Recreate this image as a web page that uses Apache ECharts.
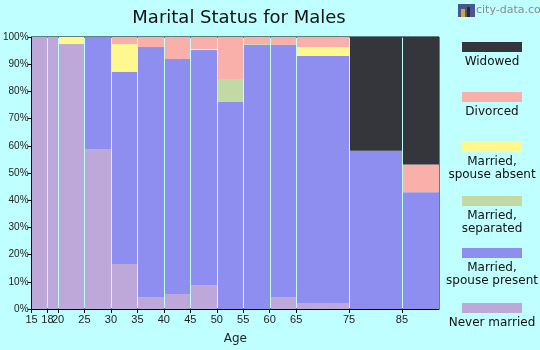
<!DOCTYPE html>
<html>
<head>
<meta charset="utf-8">
<script src="https://cdn.jsdelivr.net/npm/echarts@6/dist/echarts.min.js"></script>
<style>
html,body{margin:0;padding:0;background:#c0ffff;}
#c{width:540px;height:350px;}
</style>
</head>
<body>
<div id="c"></div>
<script>
// Age group boundaries
var ageStarts = [15,18,20,25,30,35,40,45,50,55,60,65,75,85];
var ageEnds   = [18,20,25,30,35,40,45,50,55,60,65,75,85,92];
var xTickLabels = [15,18,20,25,30,35,40,45,50,55,60,65,75,85];
var yTickLabels = [0,10,20,30,40,50,60,70,80,90,100];

// Percent shares per age group (stack order: bottom to top)
var neverMarried  = [100,100,97.4,58.7,16.5,4.4,5.5,8.8,0,0,4.4,2.2,0,0];
var spousePresent = [0,0,0,41.3,70.7,91.9,86.4,86.4,76.2,97.1,92.7,90.8,58.2,42.9];
var separated     = [0,0,0,0,0,0,0,0,8.4,0.3,0,0,0,0];
var spouseAbsent  = [0,0,2.6,0,10.2,0,0,0.4,0,0,0,3.3,0,0];
var divorced      = [0,0,0,0,2.6,3.7,8.1,4.4,15.4,2.6,2.9,3.7,0,10.2];
var widowed       = [0,0,0,0,0,0,0,0,0,0,0,0,41.8,46.9];

var seriesNames = ['Never married','Married, spouse present','Married, separated','Married, spouse absent','Divorced','Widowed'];
var seriesValues = [neverMarried, spousePresent, separated, spouseAbsent, divorced, widowed];
var colors = ['#bea8d9','#8e8ef0','#c2d9a3','#fef88e','#f9afaa','#35363b'];

var bottoms = ageStarts.map(function(){return 0;});
var series = seriesValues.map(function(vals, si){
  var data = [];
  vals.forEach(function(v, i){
    if (v > 0) data.push([ageStarts[i], ageEnds[i], bottoms[i], bottoms[i] + v]);
    bottoms[i] += v;
  });
  return {
    type: 'custom',
    name: seriesNames[si],
    data: data,
    encode: {x: [0,1], y: [2,3]},
    renderItem: function(params, api){
      var p0 = api.coord([api.value(0), api.value(2)]);
      var p1 = api.coord([api.value(1), api.value(3)]);
      var x0 = Math.round(p0[0]) + 1, x1 = Math.round(p1[0]);
      if (api.value(0) === ageStarts[0]) x0 = Math.round(p0[0]);
      return {
        type: 'rect',
        shape: {x: x0, y: p1[1], width: x1 - x0, height: p0[1] - p1[1]},
        style: {fill: colors[si]}
      };
    },
    silent: true
  };
});

// legend built from names/colors
var legendOrder = [5,4,3,2,1,0];
var legendLabels = ['Widowed','Divorced','Married,\nspouse absent','Married,\nseparated','Married,\nspouse present','Never married'];
var legendTops = [42,92,142,196,248,303];
var graphics = [];
legendOrder.forEach(function(si, k){
  graphics.push({type:'rect', x:462, y:legendTops[k], shape:{width:60,height:10}, style:{fill:colors[si]}});
  graphics.push({type:'text', x:492, y:legendTops[k]+13, style:{text:legendLabels[k], fill:'#111', font:'12px "DejaVu Sans"', textAlign:'center', textVerticalAlign:'top', lineHeight:13.5}});
});
// city-data logo
graphics.push({type:'rect', x:458, y:4, shape:{width:17,height:13}, style:{fill:'#4a5690'}});
graphics.push({type:'rect', x:461, y:9, shape:{width:4,height:8}, style:{fill:'#d4a63a'}});
graphics.push({type:'rect', x:467, y:7, shape:{width:3,height:10}, style:{fill:'#2a2a2a'}});
graphics.push({type:'text', x:476, y:5, style:{text:'city-data.com', fill:'#8a8a8a', font:'11px "DejaVu Sans"', textVerticalAlign:'top'}});

var chart = echarts.init(document.getElementById('c'), null, {renderer:'canvas'});
chart.setOption({
  backgroundColor: '#c0ffff',
  animation: false,
  title: {
    text: 'Marital Status for Males',
    left: 234, top: 4, textAlign: 'center',
    textStyle: {fontFamily:'DejaVu Sans', fontSize:18, fontWeight:'normal', color:'#111'}
  },
  grid: {left:30, right:101, top:37, bottom:40, show:true, borderColor:'#000', borderWidth:1, backgroundColor:'transparent'},
  xAxis: {
    type:'value', min:15, max:92, interval:1,
    name:'Age', nameLocation:'middle', nameGap:24,
    nameTextStyle:{fontFamily:'DejaVu Sans', fontSize:12, color:'#222'},
    axisLine:{show:true, lineStyle:{color:'#000'}},
    axisTick:{show:true, customValues:xTickLabels, length:4, lineStyle:{color:'#000'}},
    axisLabel:{customValues:xTickLabels, fontFamily:'Liberation Sans', fontSize:11, color:'#222', margin:5},
    splitLine:{show:false}
  },
  yAxis: {
    type:'value', min:0, max:100, interval:10,
    axisLine:{show:true, lineStyle:{color:'#000'}},
    axisTick:{show:true, length:4, lineStyle:{color:'#000'}},
    axisLabel:{formatter:'{value}%', fontFamily:'Liberation Sans', fontSize:10, color:'#222', margin:3},
    splitLine:{show:false}
  },
  graphic: graphics,
  series: series
});
</script>
</body>
</html>
